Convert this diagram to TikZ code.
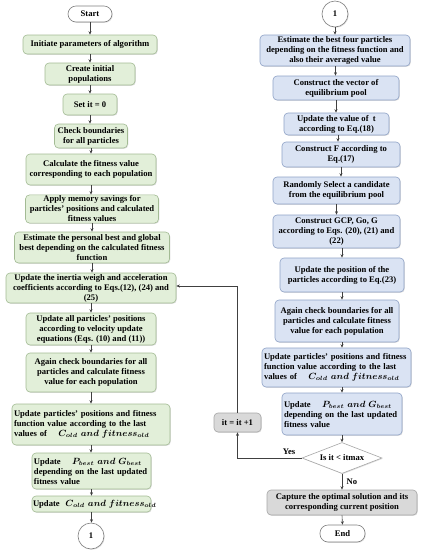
\documentclass[tikz,border=0pt]{standalone}
\usepackage{fontspec}
\setmainfont{Liberation Serif}
\usetikzlibrary{shapes.geometric,arrows.meta,shadows}
\definecolor{gfill}{HTML}{E2EFD9}
\definecolor{gline}{HTML}{A3BB94}
\definecolor{bfill}{HTML}{DAE3F3}
\definecolor{bline}{HTML}{8FA2C6}
\definecolor{yfill}{HTML}{D9D9D9}
\definecolor{yline}{HTML}{A6A6A6}
\definecolor{tline}{HTML}{7F7F7F}
\definecolor{aline}{HTML}{404040}
\newcommand{\cold}{{\boldmath$C_{old}\;and\;fitness_{old}$}}
\newcommand{\pbest}{{\boldmath$P_{best}\;and\;G_{best}$}}
\begin{document}
\begin{tikzpicture}[x=1pt,y=-1pt,
  base/.style={font=\fontsize{8.6}{10}\selectfont\bfseries, inner sep=1pt, line width=0.6pt,
    drop shadow={opacity=0.25, shadow xshift=0.8pt, shadow yshift=-0.8pt}},
  gbox/.style={base, draw=gline, fill=gfill, rounded corners=4pt, align=center},
  bbox/.style={base, draw=bline, fill=bfill, rounded corners=4pt, align=center},
  ybox/.style={base, draw=yline, fill=yfill, rounded corners=4pt, align=center},
  gleft/.style={gbox, align=left, inner xsep=2pt},
  bleft/.style={bbox, align=left, inner xsep=2pt},
  term/.style={base, draw=tline, fill=white, rounded corners=8pt},
  conn/.style={base, circle, draw=tline, fill=white, minimum size=26pt, inner sep=0pt},
  dec/.style={base, diamond, draw=yline, fill=white, aspect=2.6, inner sep=0pt},
  lbl/.style={font=\fontsize{8.6}{10}\selectfont\bfseries, inner sep=0pt},
  arr/.style={draw=aline, line width=0.6pt, -{Stealth[length=3.5pt,width=3pt]}}]
\useasboundingbox (0,0) rectangle (428,550);

% left column
\node[term, minimum width=44pt, minimum height=16pt] (start) at (90,14) {Start};
\node[gbox, minimum width=134pt, minimum height=19pt] (l1) at (90,44.5) {Initiate parameters of algorithm};
\node[gbox, minimum width=90pt, minimum height=22pt] (l2) at (90,74) {Create initial\\populations};
\node[gbox, minimum width=54pt, minimum height=21pt] (l3) at (90,104.5) {Set it = 0};
\node[gbox, minimum width=73pt, minimum height=24pt] (l4) at (91,136) {Check boundaries\\for all particles};
\node[gbox, minimum width=130pt, minimum height=31pt] (l5) at (91,169.5) {Calculate the fitness value\\corresponding to each population};
\node[gbox, minimum width=133pt, minimum height=28pt] (l6) at (92,209) {Apply memory savings for\\particles' positions and calculated\\fitness values};
\node[gbox, minimum width=155pt, minimum height=31pt] (l7) at (92,247.5) {Estimate the personal best and global\\best depending on the calculated fitness\\function};
\node[gbox, minimum width=170pt, minimum height=30pt] (l8) at (91,288) {Update the inertia weigh and acceleration\\coefficients according to Eqs.(12), (24) and\\(25)};
\node[gbox, minimum width=130pt, minimum height=32pt] (l9) at (91,329) {Update all particles' positions\\according to velocity update\\equations (Eqs. (10) and (11))};
\node[gbox, minimum width=130pt, minimum height=39pt] (l10) at (91,372.5) {Again check boundaries for all\\particles and calculate fitness\\value for each population};
\node[gleft, text width=154pt, minimum height=41pt] (l11) at (91,424.5) {Update particles' positions and fitness\\function value according to the last\\values of \quad \cold};
\node[gleft, text width=115pt, minimum height=36pt] (l12) at (91.5,471) {Update \quad \pbest\\depending on the last updated\\fitness value};
\node[gleft, text width=117pt, inner xsep=1pt, minimum height=16pt] (l13) at (91.5,504) {Update~ \cold};
\node[conn] (c1) at (91,536) {1};

\foreach \a/\b in {start/l1,l1/l2,l2/l3,l3/l4,l4/l5,l5/l6,l6/l7,l7/l8,l8/l9,l9/l10,l10/l11,l11/l12,l12/l13,l13/c1}
  \draw[arr] (\a.south) -- (\a.south |- \b.north);

% right column
\node[conn] (c2) at (335,14) {1};
\node[bbox, minimum width=150pt, minimum height=31pt] (r1) at (335,50.5) {Estimate the best four particles\\depending on the fitness function and\\also their averaged value};
\node[bbox, minimum width=126pt, minimum height=24pt] (r2) at (336,88) {Construct the vector of\\equilibrium pool};
\node[bbox, minimum width=105pt, minimum height=22pt] (r3) at (336.5,124) {Update the value of \ t\\according to Eq.(18)};
\node[bbox, minimum width=118pt, minimum height=25pt] (r4) at (341,154.5) {Construct F according to\\Eq.(17)};
\node[bbox, minimum width=127pt, minimum height=27pt] (r5) at (336.5,190.5) {Randomly Select a candidate\\from the equilibrium pool};
\node[bbox, minimum width=127pt, minimum height=33pt] (r6) at (336.5,231.5) {Construct GCP, Go, G\\according to Eqs. (20), (21) and\\(22)};
\node[bbox, minimum width=124pt, minimum height=34pt] (r7) at (342,275) {Update the position of the\\particles according to Eq.(23)};
\node[bbox, minimum width=124pt, minimum height=42pt] (r8) at (337,321) {Again check boundaries for all\\particles and calculate fitness\\value for each population};
\node[bleft, text width=145pt, minimum height=39pt] (r9) at (336.5,367.5) {Update particles' positions and fitness\\function value according to the last\\values of \quad \cold};
\node[bleft, text width=116pt, minimum height=42pt] (r10) at (342,414) {Update \quad \pbest\\depending on the last updated\\fitness value};
\node[dec, minimum width=80pt, minimum height=31pt] (d) at (342,458) {Is it < itmax};
\node[ybox, minimum width=150pt, minimum height=25pt] (r11) at (342,502.5) {Capture the optimal solution and its\\corresponding current position};
\node[term, minimum width=45pt, minimum height=17pt] (end) at (342.5,533.5) {End};
\node[ybox, minimum width=47pt, minimum height=19pt] (inc) at (237.5,422.5) {it = it +1};

\draw[arr] (c2.south) -- (c2.south |- r1.north);
\draw[arr] ([xshift=0.5pt]r1.south) -- ([xshift=0.5pt]r1.south |- r2.north);
\draw[arr] (r2.south) -- (r2.south |- r3.north);
\draw[arr] ([xshift=1.5pt]r3.south) -- ([xshift=1.5pt]r3.south |- r4.north);
\draw[arr] (r4.south) -- (r4.south |- r5.north);
\draw[arr] (r5.south) -- (r5.south |- r6.north);
\draw[arr] ([xshift=5.5pt]r6.south) -- ([xshift=5.5pt]r6.south |- r7.north);
\draw[arr] (r7.south) -- (r7.south |- r8.north);
\draw[arr] ([xshift=5pt]r8.south) -- ([xshift=5pt]r8.south |- r9.north);
\draw[arr] ([xshift=5.5pt]r9.south) -- ([xshift=5.5pt]r9.south |- r10.north);
\draw[arr] (r10.south) -- (d.north);
\draw[arr] (d.south) -- (r11.north);
\draw[arr] (r11.south) -- (end.north);

% feedback
\draw[arr] (d.west) -| (inc.south);
\draw[arr] (inc.north) |- ([yshift=2pt]l8.east);
\node[lbl] (yes) at (289,452) {Yes};
\node[lbl] (no) at (352,482) {No};
\end{tikzpicture}
\end{document}
